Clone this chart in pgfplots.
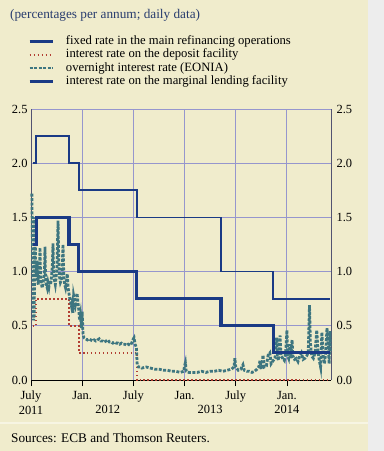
\documentclass[border=0pt]{standalone}
\usepackage{pgfplots}
\pgfplotsset{compat=1.18}
\usepackage{pgfplotstable}
\usepackage{fontspec}
\setmainfont{Liberation Serif}
\definecolor{bgbeige}{RGB}{240,236,204}
\definecolor{navy}{RGB}{26,58,133}
\definecolor{teal2}{RGB}{62,118,128}
\definecolor{depred}{RGB}{178,62,50}
\definecolor{gridc}{RGB}{150,150,205}
\definecolor{titlec}{RGB}{40,60,110}
\newcommand{\cf}{\fontsize{12.5}{14.5}\selectfont}
\newcommand{\lf}{\fontsize{12.7}{14.5}\selectfont}
\newcommand{\tf}{\fontsize{13.3}{15}\selectfont}

\pgfplotstableread{
x y
0.2 1.25
0.6 1.50
4.45 1.25
5.6 1.00
12.4 0.75
22.27 0.50
28.4 0.25
35.1 0.25
}\mro

\pgfplotstableread{
x y
0.2 0.50
0.6 0.75
4.45 0.50
5.6 0.25
12.4 0.00
35.1 0.00
}\depo

\pgfplotstableread{
x y
0.2 2.00
0.6 2.25
4.45 2.00
5.6 1.75
12.4 1.50
22.27 1.00
28.4 0.75
35.1 0.75
}\mlf

\pgfplotstableread{
x y
0.10 1.72
0.15 1.40
0.20 1.10
0.25 0.70
0.30 0.55
0.38 0.60
0.45 1.50
0.50 1.30
0.55 1.00
0.62 0.95
0.70 1.10
0.78 0.92
0.85 0.88
0.92 1.00
1.00 1.05
1.06 1.22
1.12 0.95
1.20 0.90
1.30 0.85
1.40 0.88
1.50 0.95
1.58 1.00
1.64 1.23
1.70 0.95
1.80 0.88
1.90 0.85
1.99 0.90
2.10 0.86
2.20 0.92
2.30 0.88
2.40 0.95
2.50 1.05
2.58 1.26
2.65 1.00
2.75 0.92
2.85 0.88
2.95 0.95
3.05 1.05
3.17 1.47
3.25 1.10
3.35 0.95
3.45 0.90
3.55 0.92
3.65 1.00
3.75 1.25
3.85 0.95
3.95 0.88
4.05 0.85
4.15 0.90
4.25 0.98
4.35 0.85
4.45 0.80
4.55 0.75
4.65 0.72
4.75 0.68
4.85 0.72
4.92 0.62
5.00 0.78
5.10 0.74
5.20 0.70
5.30 0.76
5.40 0.80
5.50 0.72
5.60 0.65
5.70 0.55
5.80 0.60
5.90 0.48
6.00 0.63
6.10 0.42
6.20 0.39
6.40 0.38
6.60 0.37
6.80 0.38
7.00 0.37
7.20 0.36
7.40 0.37
7.60 0.36
7.80 0.37
8.00 0.38
8.20 0.36
8.40 0.36
8.60 0.35
8.80 0.36
9.00 0.37
9.20 0.35
9.40 0.35
9.60 0.34
9.80 0.35
10.00 0.34
10.20 0.34
10.40 0.33
10.60 0.34
10.80 0.33
11.00 0.33
11.20 0.32
11.40 0.33
11.60 0.32
11.80 0.34
12.00 0.38
12.08 0.39
12.20 0.33
12.35 0.30
12.45 0.14
12.60 0.12
12.80 0.12
13.00 0.11
13.50 0.12
14.00 0.11
14.50 0.10
15.00 0.10
15.50 0.09
16.00 0.09
16.50 0.08
17.00 0.08
17.50 0.07
17.90 0.08
18.00 0.13
18.10 0.16
18.20 0.08
18.50 0.07
19.00 0.07
19.50 0.07
20.00 0.08
20.50 0.07
21.00 0.08
21.50 0.08
22.00 0.09
22.50 0.08
23.00 0.09
23.50 0.10
23.80 0.12
23.90 0.20
24.00 0.12
24.30 0.09
24.60 0.10
24.85 0.14
25.00 0.09
25.30 0.08
25.60 0.08
25.90 0.07
26.20 0.08
26.50 0.10
26.70 0.12
26.85 0.18
27.00 0.10
27.20 0.23
27.35 0.12
27.60 0.13
27.80 0.23
28.00 0.25
28.15 0.15
28.40 0.18
28.60 0.20
28.80 0.39
28.90 0.22
29.00 0.18
29.20 0.41
29.30 0.22
29.50 0.20
29.70 0.18
29.85 0.25
30.00 0.46
30.10 0.22
30.20 0.20
30.36 0.33
30.45 0.20
30.60 0.37
30.70 0.22
30.90 0.19
31.10 0.20
31.30 0.17
31.50 0.22
31.70 0.25
31.90 0.19
32.10 0.20
32.30 0.22
32.50 0.25
32.65 0.69
32.75 0.35
32.90 0.22
33.10 0.20
33.30 0.25
33.50 0.46
33.65 0.25
33.80 0.18
33.95 0.12
34.10 0.44
34.25 0.22
34.40 0.15
34.55 0.25
34.70 0.48
34.85 0.30
34.95 0.15
35.05 0.45
35.10 0.25
}\eonia

\pgfplotsset{
  ratelabels/.style={
    ytick={0,0.5,1,1.5,2,2.5},
    y tick label style={font=\cf},
    /pgf/number format/fixed,
    /pgf/number format/fixed zerofill,
    /pgf/number format/precision=1,
    /pgf/number format/assume math mode=true,
  }
}

\begin{document}
\begin{tikzpicture}
\useasboundingbox (0,0) rectangle (384bp,451bp);
\fill[black!7] (0,0) rectangle (384bp,451bp);
\fill[bgbeige] (0,0) rectangle (368bp,451bp);
\draw[line width=1.5bp, color=white!45!bgbeige] (0,28bp) -- (368bp,28bp);
\node[anchor=base west, inner sep=0, text=titlec, font=\tf] at (10bp,432bp) {(percentages per annum; daily data)};
\node[anchor=base west, inner sep=0, font=\tf] at (11bp,9bp) {Sources: ECB and Thomson Reuters.};

\begin{axis}[
  at={(31bp,71bp)}, anchor=south west, scale only axis,
  width=300bp, height=271bp,
  xmin=0, xmax=35.17, ymin=0, ymax=2.5,
  clip=false,
  axis x line=bottom, axis y line=box,
  axis line style={-},
  x axis line style={black, line width=0.6pt},
  y axis line style={gridc!55!black, line width=0.9pt},
  xtick={0,6,12,18,24,30},
  xticklabels={July\\2011, Jan., July, Jan., July, Jan.\\2014},
  extra x ticks={9,21},
  extra x tick labels={\vphantom{Jy}\\2012, \vphantom{Jy}\\2013},
  extra x tick style={grid=none, tick style={draw=none}},
  x tick label style={align=center, font=\cf, yshift=-1.5bp},
  ratelabels,
  xtick align=outside, major tick length=6bp,
  xtick style={black, line width=0.6pt},
  ytick style={draw=none},
  grid=major, major grid style={gridc, line width=0.9pt},
  legend style={at={(axis description cs:-0.01,1.273)}, anchor=north west,
    draw=none, fill=none, font=\lf, inner sep=0pt, row sep=0pt,
    nodes={inner sep=0.8pt, text height=8.8pt, text depth=2.8pt},
    /tikz/every odd column/.append style={column sep=11bp}},
  legend cell align=left,
  legend image code/.code={\draw[#1] (0bp,0bp) -- (23bp,0bp);},
]
\addlegendimage{navy, line width=3pt}
\addlegendentry{fixed rate in the main refinancing operations}
\addlegendimage{depred, line width=1.8pt, dash pattern=on 1.6pt off 2.4pt}
\addlegendentry{interest rate on the deposit facility}
\addlegendimage{teal2, line width=2.8pt, dash pattern=on 3pt off 1.5pt}
\addlegendentry{overnight interest rate (EONIA)}
\addlegendimage{navy, line width=2.6pt}
\addlegendentry{interest rate on the marginal lending facility}

\addplot[depred, line width=1.8pt, dash pattern=on 1.6pt off 2.4pt, const plot, forget plot] table {\depo};
\addplot[teal2, line width=2.8pt, dash pattern=on 3pt off 1.5pt, forget plot] table {\eonia};
\addplot[navy, line width=3.2pt, const plot, forget plot] table {\mro};
\addplot[navy, line width=1.8pt, const plot, forget plot] table {\mlf};
\end{axis}

\begin{axis}[
  at={(31bp,71bp)}, anchor=south west, scale only axis,
  width=300bp, height=271bp,
  xmin=0, xmax=35.17, ymin=0, ymax=2.5,
  axis x line=none, axis y line=right,
  y axis line style={draw=none},
  ratelabels,
  ytick style={draw=none},
]
\end{axis}
\end{tikzpicture}
\end{document}
